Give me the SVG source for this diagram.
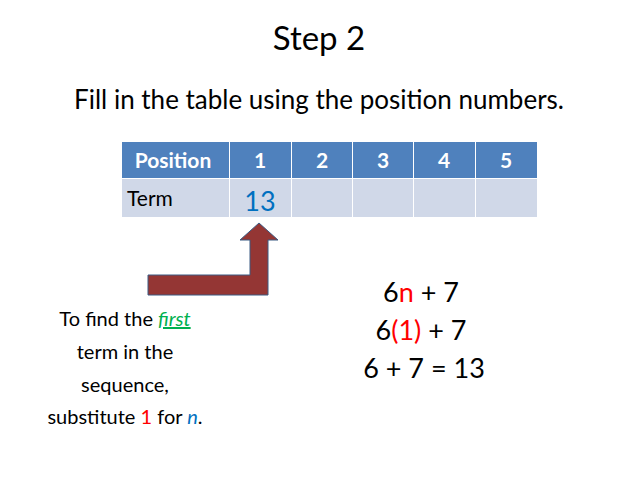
<svg xmlns="http://www.w3.org/2000/svg" width="638" height="478" viewBox="0 0 638 478">
<style>
text{font-family:Lato,"Open Sans",sans-serif;fill:#000}
.h{fill:#4f81bd}.b{fill:#d0d8e8}
.ht{fill:#fff;font-weight:bold;font-size:21px;text-anchor:middle}
.m{font-size:27px;text-anchor:middle}
.s{font-size:20px;text-anchor:middle}
</style>
<rect width="638" height="478" fill="#fff"/>
<text x="319" y="50" font-size="33" text-anchor="middle">Step 2</text>
<text x="319" y="109" font-size="26" text-anchor="middle">Fill in the table using the position numbers.</text>
<g id="table">
<rect class="h" x="122" y="142" width="107" height="36"/>
<rect class="h" x="230" y="142" width="61" height="36"/>
<rect class="h" x="292" y="142" width="60" height="36"/>
<rect class="h" x="353" y="142" width="60" height="36"/>
<rect class="h" x="414" y="142" width="61" height="36"/>
<rect class="h" x="476" y="142" width="61" height="36"/>
<rect class="b" x="122" y="179" width="107" height="38"/>
<rect class="b" x="230" y="179" width="61" height="38"/>
<rect class="b" x="292" y="179" width="60" height="38"/>
<rect class="b" x="353" y="179" width="60" height="38"/>
<rect class="b" x="414" y="179" width="61" height="38"/>
<rect class="b" x="476" y="179" width="61" height="38"/>
<text class="ht" x="173" y="168">Position</text>
<text class="ht" x="260" y="168">1</text>
<text class="ht" x="322" y="168">2</text>
<text class="ht" x="383" y="168">3</text>
<text class="ht" x="444" y="168">4</text>
<text class="ht" x="506" y="168">5</text>
<text x="127" y="206" font-size="21">Term</text>
<text x="260" y="211" font-size="27" text-anchor="middle" style="fill:#0070c0">13</text>
</g>
<g id="connectors">
<path d="M148,275 H250 V240 H240 L259,223 L278,240 H268 V295 H148 Z" fill="#943634" stroke="#3b5a82" stroke-width="1"/>
</g>
<g id="equations">
<text class="m" x="421" y="302">6<tspan style="fill:#ff0000">n</tspan> + 7</text>
<text class="m" x="421" y="340">6<tspan style="fill:#ff0000">(1)</tspan> + 7</text>
<text class="m" x="424" y="378">6 + 7 = 13</text>
</g>
<g id="note">
<text class="s" x="125" y="326">To find the <tspan style="fill:#00b050;font-style:italic;text-decoration:underline">first</tspan></text>
<text class="s" x="125" y="359">term in the</text>
<text class="s" x="125" y="392">sequence,</text>
<text class="s" x="125" y="424">substitute <tspan style="fill:#ff0000">1</tspan> for <tspan style="fill:#0070c0;font-style:italic">n</tspan>.</text>
</g>
</svg>
